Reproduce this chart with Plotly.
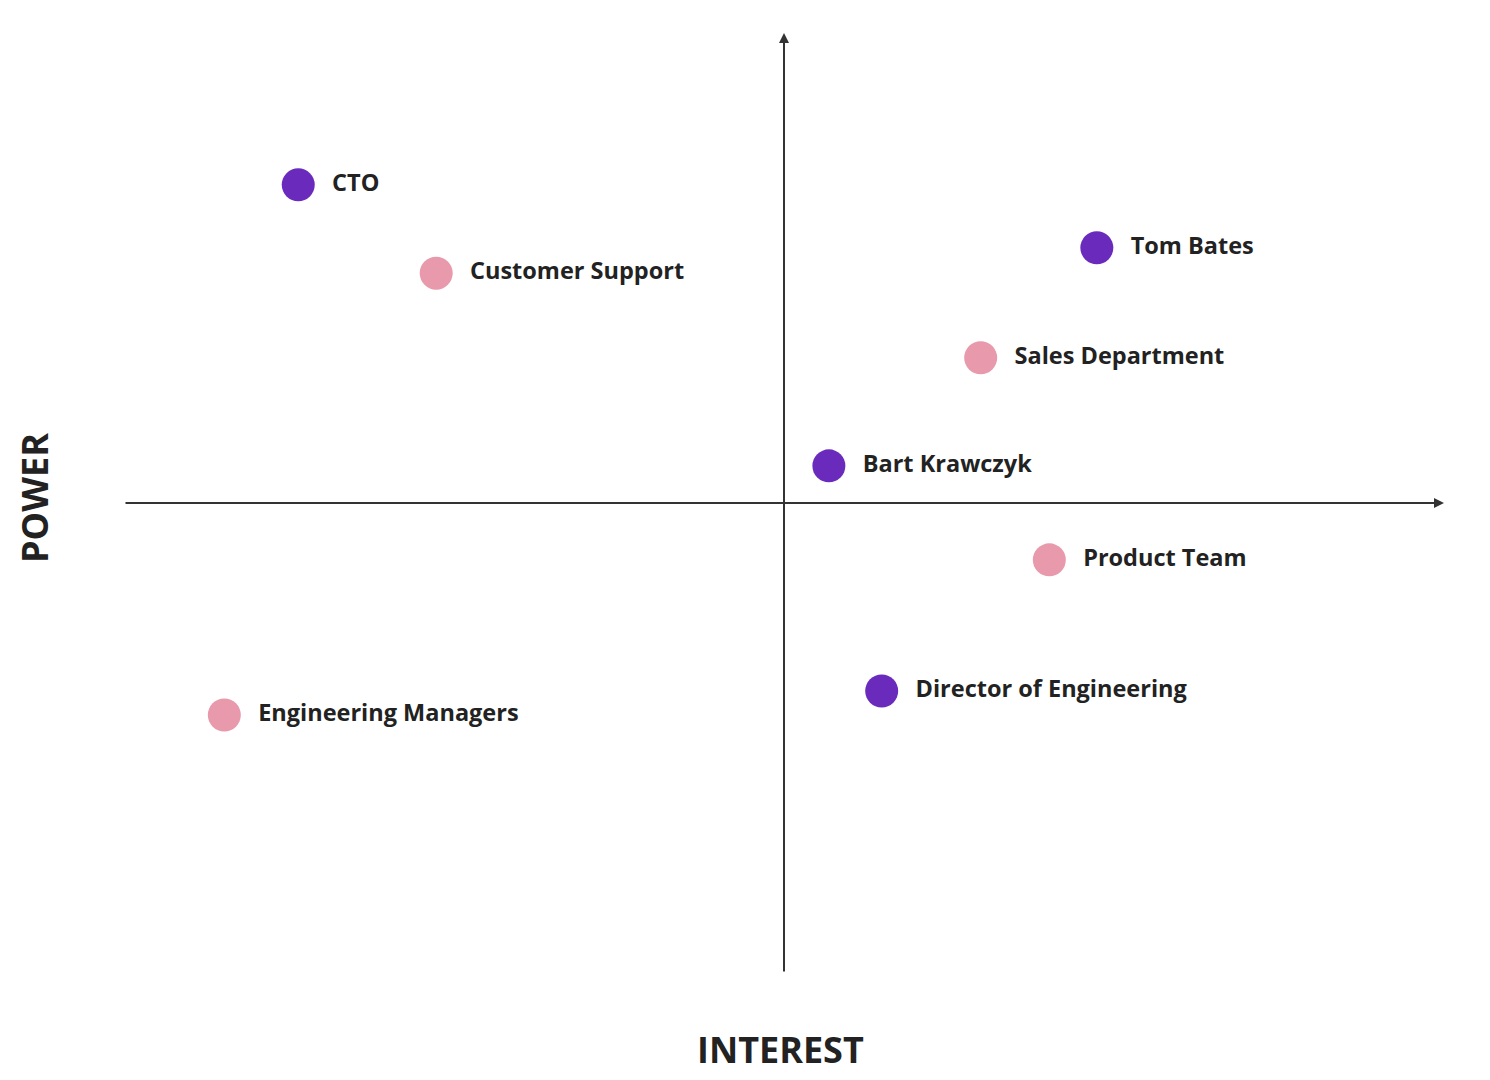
import plotly.graph_objects as go

names = ["CTO", "Customer Support", "Tom Bates", "Sales Department", "Bart Krawczyk",
         "Product Team", "Director of Engineering", "Engineering Managers"]
interest = [-7.36, -5.27, 4.74, 2.98, 0.68, 4.02, 1.48, -8.48]
power = [6.77, 4.89, 5.43, 3.09, 0.79, -1.21, -4.0, -4.51]
kind = ["p", "k", "p", "k", "p", "k", "p", "k"]
colors = {"p": "#6a2bbd", "k": "#e899ab"}

fig = go.Figure(go.Scatter(
    x=interest, y=power, mode="markers+text", text=["  " + n for n in names],
    textposition="middle right",
    textfont=dict(family="Open Sans", size=23.5, color="#222222", weight="bold"),
    marker=dict(size=33, color=[colors[k] for k in kind]),
    hoverinfo="skip", cliponaxis=False))

fig.add_annotation(x=10, y=0, ax=-10, ay=0, xref="x", yref="y", axref="x", ayref="y",
                   showarrow=True, arrowhead=2, arrowsize=1, arrowwidth=2, arrowcolor="#333333", text="")
fig.add_annotation(x=0, y=10, ax=0, ay=-10, xref="x", yref="y", axref="x", ayref="y",
                   showarrow=True, arrowhead=2, arrowsize=1, arrowwidth=2, arrowcolor="#333333", text="")

L, R, T, B = 116, 1436, 25, 965
def px(x): return (x - L) / (R - L)
def py(y): return (B - y) / (B - T)

fig.add_annotation(text="<b>POWER</b>", x=px(27), y=py(490), xref="paper", yref="paper", showarrow=False,
                   xanchor="center", yanchor="middle",
                   textangle=-90, font=dict(family="Open Sans", size=36, color="#222222"))
fig.add_annotation(text="<b>INTEREST</b>", x=px(772), y=py(1041), xref="paper", yref="paper",
                   xanchor="center", yanchor="middle",
                   showarrow=False, font=dict(family="Open Sans", size=36, color="#222222"))

fig.update_layout(
    width=1490, height=1080, margin=dict(l=L, r=1490 - R, t=T, b=1080 - B),
    paper_bgcolor="white", plot_bgcolor="white", showlegend=False,
    xaxis=dict(range=[-10, 10], visible=False),
    yaxis=dict(range=[-10, 10], visible=False),
)
fig.write_html("out.html")
